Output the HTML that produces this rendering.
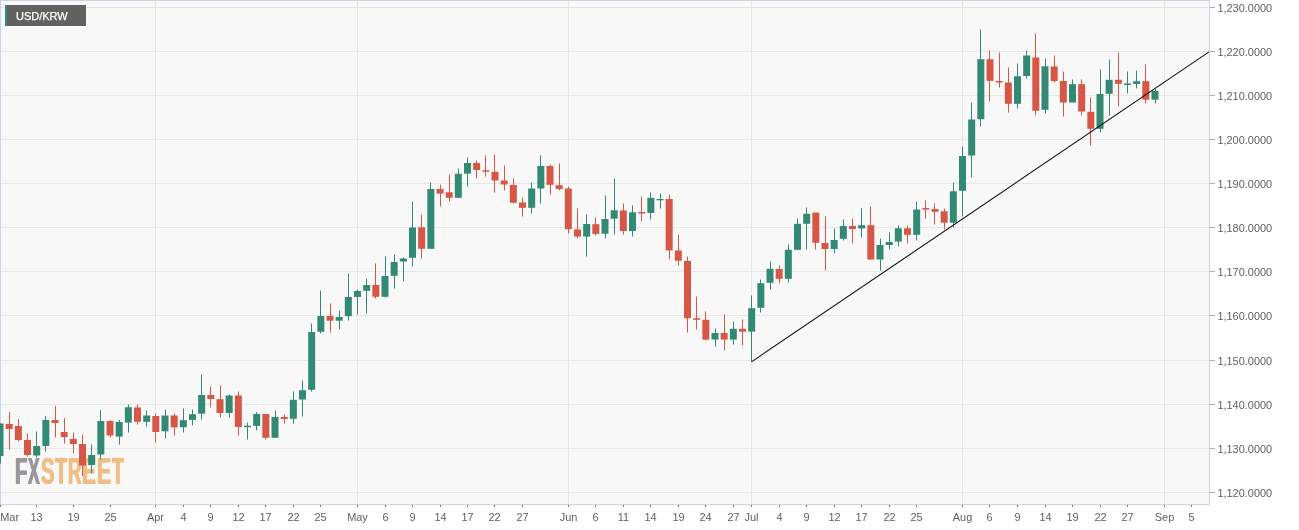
<!DOCTYPE html>
<html lang="en"><head><meta charset="utf-8"><title>USD/KRW</title>
<style>
html,body{margin:0;padding:0;background:#fff;}
body{width:1299px;height:530px;overflow:hidden;position:relative;font-family:"Liberation Sans",sans-serif;}
svg{position:absolute;left:0;top:0;display:block;}
svg text{font-family:"Liberation Sans",sans-serif;}
.ax{font-size:10.95px;fill:#606060;}
.plot{position:absolute;left:0;top:0;width:1210px;height:505px;background:#f8f8f8;}
.logo{position:absolute;left:0;top:0;width:140px;height:505px;font-weight:bold;font-size:37.36px;line-height:1;white-space:nowrap;color:#f0be84;}
.logo span{position:absolute;display:block;transform-origin:0 0;}
.logo .fx{color:#98989c;}
</style></head><body>
<div class="plot"></div>
<div class="logo"><span class="fx" style="left:14.74px;top:453.4px;transform:scaleX(0.5449);text-shadow:1.10px 0 0 currentColor,-1.10px 0 0 currentColor">F</span><span class="fx" style="left:28.44px;top:453.4px;transform:scaleX(0.4668);text-shadow:1.29px 0 0 currentColor,-1.29px 0 0 currentColor">X</span><span style="left:41.21px;top:453.4px;transform:scaleX(0.5416);text-shadow:1.11px 0 0 currentColor,-1.11px 0 0 currentColor">S</span><span style="left:55.38px;top:453.4px;transform:scaleX(0.5280);text-shadow:1.14px 0 0 currentColor,-1.14px 0 0 currentColor">T</span><span style="left:68.35px;top:453.4px;transform:scaleX(0.4990);text-shadow:1.20px 0 0 currentColor,-1.20px 0 0 currentColor">R</span><span style="left:82.41px;top:453.4px;transform:scaleX(0.5545);text-shadow:1.08px 0 0 currentColor,-1.08px 0 0 currentColor">E</span><span style="left:96.69px;top:453.4px;transform:scaleX(0.5640);text-shadow:1.06px 0 0 currentColor,-1.06px 0 0 currentColor">E</span><span style="left:112.39px;top:453.4px;transform:scaleX(0.5144);text-shadow:1.17px 0 0 currentColor,-1.17px 0 0 currentColor">T</span></div>
<svg width="1299" height="530" viewBox="0 0 1299 530">
<g stroke="#e6e6e6" stroke-width="1" fill="none">
<line x1="0" y1="492.50" x2="1209" y2="492.50"/>
<line x1="0" y1="448.50" x2="1209" y2="448.50"/>
<line x1="0" y1="404.50" x2="1209" y2="404.50"/>
<line x1="0" y1="360.50" x2="1209" y2="360.50"/>
<line x1="0" y1="315.50" x2="1209" y2="315.50"/>
<line x1="0" y1="271.50" x2="1209" y2="271.50"/>
<line x1="0" y1="227.50" x2="1209" y2="227.50"/>
<line x1="0" y1="183.50" x2="1209" y2="183.50"/>
<line x1="0" y1="139.50" x2="1209" y2="139.50"/>
<line x1="0" y1="95.50" x2="1209" y2="95.50"/>
<line x1="0" y1="51.50" x2="1209" y2="51.50"/>
<line x1="0" y1="7.50" x2="1209" y2="7.50"/>
<line x1="155.50" y1="0" x2="155.50" y2="504"/>
<line x1="357.50" y1="0" x2="357.50" y2="504"/>
<line x1="568.50" y1="0" x2="568.50" y2="504"/>
<line x1="751.50" y1="0" x2="751.50" y2="504"/>
<line x1="962.50" y1="0" x2="962.50" y2="504"/>
<line x1="1164.50" y1="0" x2="1164.50" y2="504"/>
</g>
<g stroke="#ccd3e6" stroke-width="1" fill="none">
<line x1="0" y1="0.5" x2="1210" y2="0.5"/>
<line x1="0.5" y1="0" x2="0.5" y2="504"/>
<line x1="1209.5" y1="0" x2="1209.5" y2="504.5"/>
<line x1="0" y1="504.5" x2="1210" y2="504.5"/>
</g>
<g fill="#338a74"><rect x="0.00" y="423.5" width="1.0" height="40.0"/><rect x="-3.50" y="423.5" width="7.0" height="32.5"/>
<rect x="36.00" y="431.5" width="1.0" height="26.0"/><rect x="33.17" y="446.0" width="7.0" height="9.5"/>
<rect x="45.00" y="416.0" width="1.0" height="35.5"/><rect x="42.33" y="420.0" width="7.0" height="26.0"/>
<rect x="91.00" y="444.5" width="1.0" height="28.5"/><rect x="88.17" y="455.0" width="7.0" height="10.0"/>
<rect x="100.00" y="410.0" width="1.0" height="49.5"/><rect x="97.33" y="421.0" width="7.0" height="33.5"/>
<rect x="119.00" y="420.0" width="1.0" height="24.5"/><rect x="115.67" y="422.0" width="7.0" height="14.6"/>
<rect x="128.00" y="404.5" width="1.0" height="28.0"/><rect x="124.83" y="407.2" width="7.0" height="15.4"/>
<rect x="146.00" y="410.5" width="1.0" height="16.0"/><rect x="143.17" y="415.5" width="7.0" height="6.3"/>
<rect x="165.00" y="409.5" width="1.0" height="29.0"/><rect x="161.50" y="415.5" width="7.0" height="15.8"/>
<rect x="183.00" y="408.5" width="1.0" height="24.0"/><rect x="179.83" y="420.2" width="7.0" height="7.0"/>
<rect x="192.00" y="409.5" width="1.0" height="16.0"/><rect x="189.00" y="414.2" width="7.0" height="5.7"/>
<rect x="201.00" y="374.5" width="1.0" height="45.0"/><rect x="198.17" y="395.0" width="7.0" height="18.7"/>
<rect x="229.00" y="394.5" width="1.0" height="23.0"/><rect x="225.67" y="395.5" width="7.0" height="17.5"/>
<rect x="247.00" y="422.5" width="1.0" height="17.0"/><rect x="244.00" y="425.7" width="7.0" height="1.5"/>
<rect x="256.00" y="412.0" width="1.0" height="18.5"/><rect x="253.17" y="414.0" width="7.0" height="11.9"/>
<rect x="275.00" y="410.5" width="1.0" height="27.3"/><rect x="271.50" y="417.0" width="7.0" height="20.8"/>
<rect x="293.00" y="391.5" width="1.0" height="32.0"/><rect x="289.83" y="399.8" width="7.0" height="19.0"/>
<rect x="302.00" y="380.5" width="1.0" height="36.0"/><rect x="299.00" y="390.2" width="7.0" height="9.3"/>
<rect x="311.00" y="323.5" width="1.0" height="68.0"/><rect x="308.17" y="332.0" width="7.0" height="57.8"/>
<rect x="320.00" y="290.5" width="1.0" height="43.0"/><rect x="317.33" y="316.0" width="7.0" height="15.8"/>
<rect x="339.00" y="310.5" width="1.0" height="19.0"/><rect x="335.67" y="317.0" width="7.0" height="3.7"/>
<rect x="348.00" y="273.5" width="1.0" height="47.0"/><rect x="344.83" y="297.0" width="7.0" height="19.2"/>
<rect x="357.00" y="289.5" width="1.0" height="25.0"/><rect x="354.00" y="291.0" width="7.0" height="6.0"/>
<rect x="366.00" y="278.5" width="1.0" height="35.0"/><rect x="363.17" y="285.0" width="7.0" height="5.8"/>
<rect x="385.00" y="256.5" width="1.0" height="41.0"/><rect x="381.50" y="276.0" width="7.0" height="20.8"/>
<rect x="394.00" y="254.5" width="1.0" height="34.0"/><rect x="390.67" y="262.0" width="7.0" height="13.8"/>
<rect x="403.00" y="257.5" width="1.0" height="24.0"/><rect x="399.83" y="258.5" width="7.0" height="3.0"/>
<rect x="412.00" y="201.5" width="1.0" height="65.0"/><rect x="409.00" y="227.5" width="7.0" height="30.3"/>
<rect x="430.00" y="182.5" width="1.0" height="66.3"/><rect x="427.33" y="189.0" width="7.0" height="59.8"/>
<rect x="458.00" y="168.5" width="1.0" height="29.3"/><rect x="454.83" y="173.8" width="7.0" height="24.0"/>
<rect x="467.00" y="157.5" width="1.0" height="29.0"/><rect x="464.00" y="163.0" width="7.0" height="10.7"/>
<rect x="531.00" y="182.5" width="1.0" height="31.0"/><rect x="528.17" y="188.5" width="7.0" height="19.3"/>
<rect x="540.00" y="155.5" width="1.0" height="48.0"/><rect x="537.33" y="166.0" width="7.0" height="22.5"/>
<rect x="586.00" y="214.5" width="1.0" height="42.0"/><rect x="583.17" y="224.0" width="7.0" height="12.6"/>
<rect x="605.00" y="195.5" width="1.0" height="43.0"/><rect x="601.50" y="219.0" width="7.0" height="14.7"/>
<rect x="614.00" y="178.5" width="1.0" height="56.0"/><rect x="610.67" y="210.2" width="7.0" height="8.5"/>
<rect x="632.00" y="205.5" width="1.0" height="31.0"/><rect x="629.00" y="212.3" width="7.0" height="18.7"/>
<rect x="650.00" y="192.5" width="1.0" height="27.0"/><rect x="647.33" y="197.8" width="7.0" height="15.2"/>
<rect x="660.00" y="193.5" width="1.0" height="15.0"/><rect x="656.50" y="199.0" width="7.0" height="1.3"/>
<rect x="715.00" y="328.5" width="1.0" height="18.0"/><rect x="711.50" y="333.0" width="7.0" height="6.6"/>
<rect x="733.00" y="321.5" width="1.0" height="23.0"/><rect x="729.83" y="328.8" width="7.0" height="10.8"/>
<rect x="751.00" y="295.5" width="1.0" height="66.0"/><rect x="748.17" y="308.2" width="7.0" height="23.4"/>
<rect x="760.00" y="279.5" width="1.0" height="33.0"/><rect x="757.33" y="283.2" width="7.0" height="24.6"/>
<rect x="770.00" y="261.5" width="1.0" height="28.0"/><rect x="766.50" y="268.8" width="7.0" height="14.0"/>
<rect x="788.00" y="244.5" width="1.0" height="38.0"/><rect x="784.83" y="249.8" width="7.0" height="29.0"/>
<rect x="797.00" y="218.5" width="1.0" height="31.0"/><rect x="794.00" y="223.8" width="7.0" height="26.0"/>
<rect x="806.00" y="207.5" width="1.0" height="42.0"/><rect x="803.17" y="213.8" width="7.0" height="10.0"/>
<rect x="834.00" y="228.5" width="1.0" height="25.0"/><rect x="830.67" y="240.0" width="7.0" height="9.0"/>
<rect x="843.00" y="219.5" width="1.0" height="21.0"/><rect x="839.83" y="226.0" width="7.0" height="12.8"/>
<rect x="861.00" y="208.5" width="1.0" height="29.0"/><rect x="858.17" y="225.2" width="7.0" height="3.3"/>
<rect x="880.00" y="238.5" width="1.0" height="32.0"/><rect x="876.50" y="245.0" width="7.0" height="14.5"/>
<rect x="889.00" y="232.5" width="1.0" height="17.0"/><rect x="885.67" y="242.0" width="7.0" height="3.0"/>
<rect x="898.00" y="225.5" width="1.0" height="21.0"/><rect x="894.83" y="228.3" width="7.0" height="13.3"/>
<rect x="916.00" y="201.5" width="1.0" height="39.0"/><rect x="913.17" y="209.5" width="7.0" height="25.3"/>
<rect x="953.00" y="182.5" width="1.0" height="45.0"/><rect x="949.83" y="191.3" width="7.0" height="31.4"/>
<rect x="962.00" y="146.5" width="1.0" height="70.0"/><rect x="959.00" y="156.0" width="7.0" height="34.8"/>
<rect x="971.00" y="102.5" width="1.0" height="75.0"/><rect x="968.17" y="119.5" width="7.0" height="36.0"/>
<rect x="980.00" y="29.5" width="1.0" height="97.0"/><rect x="977.33" y="59.2" width="7.0" height="60.0"/>
<rect x="1017.00" y="63.5" width="1.0" height="45.0"/><rect x="1014.00" y="76.2" width="7.0" height="27.6"/>
<rect x="1026.00" y="50.5" width="1.0" height="28.0"/><rect x="1023.17" y="55.5" width="7.0" height="20.5"/>
<rect x="1045.00" y="58.5" width="1.0" height="55.0"/><rect x="1041.50" y="66.3" width="7.0" height="43.5"/>
<rect x="1072.00" y="79.5" width="1.0" height="22.7"/><rect x="1069.00" y="84.2" width="7.0" height="18.3"/>
<rect x="1100.00" y="69.5" width="1.0" height="63.0"/><rect x="1096.50" y="94.0" width="7.0" height="34.8"/>
<rect x="1109.00" y="59.5" width="1.0" height="56.0"/><rect x="1105.67" y="79.8" width="7.0" height="14.0"/>
<rect x="1127.00" y="71.5" width="1.0" height="22.0"/><rect x="1124.00" y="83.5" width="7.0" height="1.5"/>
<rect x="1136.00" y="70.5" width="1.0" height="18.0"/><rect x="1133.17" y="81.2" width="7.0" height="2.8"/>
<rect x="1155.00" y="89.0" width="1.0" height="14.5"/><rect x="1151.50" y="90.8" width="7.0" height="8.9"/></g>
<g fill="#d65745"><rect x="9.00" y="412.0" width="1.0" height="37.5"/><rect x="5.67" y="424.0" width="7.0" height="5.0"/>
<rect x="18.00" y="419.0" width="1.0" height="22.5"/><rect x="14.83" y="426.0" width="7.0" height="14.0"/>
<rect x="27.00" y="433.5" width="1.0" height="23.0"/><rect x="24.00" y="440.0" width="7.0" height="15.0"/>
<rect x="55.00" y="406.0" width="1.0" height="31.5"/><rect x="51.50" y="420.0" width="7.0" height="3.0"/>
<rect x="64.00" y="418.0" width="1.0" height="25.5"/><rect x="60.67" y="432.0" width="7.0" height="5.0"/>
<rect x="73.00" y="432.5" width="1.0" height="21.0"/><rect x="69.83" y="439.0" width="7.0" height="5.0"/>
<rect x="82.00" y="434.5" width="1.0" height="41.5"/><rect x="79.00" y="444.0" width="7.0" height="21.5"/>
<rect x="110.00" y="420.0" width="1.0" height="17.5"/><rect x="106.50" y="421.0" width="7.0" height="14.5"/>
<rect x="137.00" y="404.5" width="1.0" height="20.0"/><rect x="134.00" y="407.5" width="7.0" height="14.3"/>
<rect x="155.00" y="413.5" width="1.0" height="29.0"/><rect x="152.33" y="416.0" width="7.0" height="16.0"/>
<rect x="174.00" y="413.5" width="1.0" height="22.0"/><rect x="170.67" y="415.5" width="7.0" height="11.9"/>
<rect x="210.00" y="386.5" width="1.0" height="21.0"/><rect x="207.33" y="395.0" width="7.0" height="4.0"/>
<rect x="220.00" y="385.5" width="1.0" height="32.0"/><rect x="216.50" y="399.2" width="7.0" height="13.8"/>
<rect x="238.00" y="391.5" width="1.0" height="44.0"/><rect x="234.83" y="395.5" width="7.0" height="31.5"/>
<rect x="265.00" y="414.0" width="1.0" height="25.5"/><rect x="262.33" y="414.0" width="7.0" height="23.8"/>
<rect x="284.00" y="414.5" width="1.0" height="9.0"/><rect x="280.67" y="417.0" width="7.0" height="2.0"/>
<rect x="330.00" y="303.5" width="1.0" height="29.0"/><rect x="326.50" y="316.0" width="7.0" height="4.7"/>
<rect x="375.00" y="263.5" width="1.0" height="35.0"/><rect x="372.33" y="285.0" width="7.0" height="11.8"/>
<rect x="421.00" y="214.5" width="1.0" height="44.0"/><rect x="418.17" y="227.3" width="7.0" height="21.5"/>
<rect x="440.00" y="184.5" width="1.0" height="22.0"/><rect x="436.50" y="189.0" width="7.0" height="4.6"/>
<rect x="449.00" y="174.5" width="1.0" height="27.0"/><rect x="445.67" y="192.3" width="7.0" height="5.5"/>
<rect x="476.00" y="160.5" width="1.0" height="18.0"/><rect x="473.17" y="163.0" width="7.0" height="7.0"/>
<rect x="485.00" y="155.5" width="1.0" height="21.0"/><rect x="482.33" y="170.3" width="7.0" height="1.5"/>
<rect x="494.00" y="154.5" width="1.0" height="38.0"/><rect x="491.50" y="171.8" width="7.0" height="8.7"/>
<rect x="504.00" y="165.5" width="1.0" height="25.0"/><rect x="500.67" y="180.5" width="7.0" height="4.0"/>
<rect x="513.00" y="178.5" width="1.0" height="25.0"/><rect x="509.83" y="185.0" width="7.0" height="17.8"/>
<rect x="522.00" y="197.5" width="1.0" height="19.0"/><rect x="519.00" y="202.5" width="7.0" height="5.3"/>
<rect x="550.00" y="164.5" width="1.0" height="30.0"/><rect x="546.50" y="166.0" width="7.0" height="18.8"/>
<rect x="559.00" y="163.5" width="1.0" height="27.0"/><rect x="555.67" y="185.2" width="7.0" height="3.8"/>
<rect x="568.00" y="186.5" width="1.0" height="47.0"/><rect x="564.83" y="188.5" width="7.0" height="40.7"/>
<rect x="577.00" y="208.5" width="1.0" height="30.0"/><rect x="574.00" y="229.5" width="7.0" height="7.0"/>
<rect x="595.00" y="217.5" width="1.0" height="18.0"/><rect x="592.33" y="224.2" width="7.0" height="9.7"/>
<rect x="623.00" y="203.5" width="1.0" height="31.0"/><rect x="619.83" y="210.5" width="7.0" height="20.5"/>
<rect x="641.00" y="196.5" width="1.0" height="25.0"/><rect x="638.17" y="212.0" width="7.0" height="1.5"/>
<rect x="669.00" y="194.5" width="1.0" height="65.0"/><rect x="665.67" y="199.0" width="7.0" height="51.4"/>
<rect x="678.00" y="234.5" width="1.0" height="31.0"/><rect x="674.83" y="250.5" width="7.0" height="10.2"/>
<rect x="687.00" y="256.5" width="1.0" height="76.0"/><rect x="684.00" y="261.0" width="7.0" height="57.2"/>
<rect x="696.00" y="296.5" width="1.0" height="33.0"/><rect x="693.17" y="318.2" width="7.0" height="1.6"/>
<rect x="705.00" y="311.5" width="1.0" height="29.0"/><rect x="702.33" y="319.8" width="7.0" height="19.8"/>
<rect x="724.00" y="314.5" width="1.0" height="36.0"/><rect x="720.67" y="333.0" width="7.0" height="6.6"/>
<rect x="742.00" y="319.5" width="1.0" height="26.0"/><rect x="739.00" y="328.8" width="7.0" height="2.9"/>
<rect x="779.00" y="265.5" width="1.0" height="18.0"/><rect x="775.67" y="269.0" width="7.0" height="9.8"/>
<rect x="815.00" y="212.8" width="1.0" height="36.7"/><rect x="812.33" y="212.6" width="7.0" height="30.2"/>
<rect x="825.00" y="216.5" width="1.0" height="54.0"/><rect x="821.50" y="243.0" width="7.0" height="6.0"/>
<rect x="852.00" y="218.5" width="1.0" height="25.0"/><rect x="849.00" y="226.0" width="7.0" height="3.0"/>
<rect x="870.00" y="206.5" width="1.0" height="53.0"/><rect x="867.33" y="225.2" width="7.0" height="34.3"/>
<rect x="907.00" y="225.5" width="1.0" height="18.0"/><rect x="904.00" y="228.3" width="7.0" height="6.5"/>
<rect x="925.00" y="200.5" width="1.0" height="18.0"/><rect x="922.33" y="208.0" width="7.0" height="1.5"/>
<rect x="934.00" y="203.5" width="1.0" height="21.0"/><rect x="931.50" y="209.0" width="7.0" height="2.8"/>
<rect x="944.00" y="208.5" width="1.0" height="21.0"/><rect x="940.67" y="211.3" width="7.0" height="11.4"/>
<rect x="989.00" y="50.5" width="1.0" height="51.0"/><rect x="986.50" y="59.2" width="7.0" height="21.7"/>
<rect x="999.00" y="52.5" width="1.0" height="35.0"/><rect x="995.67" y="81.0" width="7.0" height="1.5"/>
<rect x="1008.00" y="67.5" width="1.0" height="45.0"/><rect x="1004.83" y="82.5" width="7.0" height="21.3"/>
<rect x="1035.00" y="33.5" width="1.0" height="82.0"/><rect x="1032.33" y="57.5" width="7.0" height="53.3"/>
<rect x="1054.00" y="55.5" width="1.0" height="27.0"/><rect x="1050.67" y="66.5" width="7.0" height="14.6"/>
<rect x="1063.00" y="71.5" width="1.0" height="45.0"/><rect x="1059.83" y="81.0" width="7.0" height="21.5"/>
<rect x="1081.00" y="79.5" width="1.0" height="36.0"/><rect x="1078.17" y="84.2" width="7.0" height="27.3"/>
<rect x="1090.00" y="97.5" width="1.0" height="48.0"/><rect x="1087.33" y="111.8" width="7.0" height="17.0"/>
<rect x="1118.00" y="52.5" width="1.0" height="54.0"/><rect x="1114.83" y="79.8" width="7.0" height="4.0"/>
<rect x="1145.00" y="64.5" width="1.0" height="39.0"/><rect x="1142.33" y="81.2" width="7.0" height="18.5"/></g>
<line x1="751.5" y1="361.85" x2="1209" y2="51.85" stroke="#0a0a0a" stroke-width="1.05"/>
<rect x="5" y="5" width="81" height="21" fill="#616161"/>
<rect x="5" y="5" width="2" height="21" fill="#2e8b74"/>
<text x="16" y="20" font-size="11" fill="#ffffff" stroke="#ffffff" stroke-width="0.25">USD/KRW</text>
<g stroke="#adadad" stroke-width="1">
<line x1="1210" y1="492.50" x2="1215" y2="492.50"/>
<line x1="1210" y1="448.50" x2="1215" y2="448.50"/>
<line x1="1210" y1="404.50" x2="1215" y2="404.50"/>
<line x1="1210" y1="360.50" x2="1215" y2="360.50"/>
<line x1="1210" y1="315.50" x2="1215" y2="315.50"/>
<line x1="1210" y1="271.50" x2="1215" y2="271.50"/>
<line x1="1210" y1="227.50" x2="1215" y2="227.50"/>
<line x1="1210" y1="183.50" x2="1215" y2="183.50"/>
<line x1="1210" y1="139.50" x2="1215" y2="139.50"/>
<line x1="1210" y1="95.50" x2="1215" y2="95.50"/>
<line x1="1210" y1="51.50" x2="1215" y2="51.50"/>
<line x1="1210" y1="7.50" x2="1215" y2="7.50"/>
</g>
<g class="ax">
<text x="1217.4" y="497.00">1,120.0000</text>
<text x="1217.4" y="453.00">1,130.0000</text>
<text x="1217.4" y="409.00">1,140.0000</text>
<text x="1217.4" y="365.00">1,150.0000</text>
<text x="1217.4" y="320.00">1,160.0000</text>
<text x="1217.4" y="276.00">1,170.0000</text>
<text x="1217.4" y="232.00">1,180.0000</text>
<text x="1217.4" y="188.00">1,190.0000</text>
<text x="1217.4" y="144.00">1,200.0000</text>
<text x="1217.4" y="100.00">1,210.0000</text>
<text x="1217.4" y="56.00">1,220.0000</text>
<text x="1217.4" y="12.00">1,230.0000</text>
</g>
<g stroke="#777" stroke-width="1">
<line x1="0.50" y1="505" x2="0.50" y2="507"/>
<line x1="36.50" y1="505" x2="36.50" y2="507"/>
<line x1="73.50" y1="505" x2="73.50" y2="507"/>
<line x1="110.50" y1="505" x2="110.50" y2="507"/>
<line x1="155.50" y1="505" x2="155.50" y2="507"/>
<line x1="183.50" y1="505" x2="183.50" y2="507"/>
<line x1="210.50" y1="505" x2="210.50" y2="507"/>
<line x1="238.50" y1="505" x2="238.50" y2="507"/>
<line x1="265.50" y1="505" x2="265.50" y2="507"/>
<line x1="293.50" y1="505" x2="293.50" y2="507"/>
<line x1="320.50" y1="505" x2="320.50" y2="507"/>
<line x1="357.50" y1="505" x2="357.50" y2="507"/>
<line x1="385.50" y1="505" x2="385.50" y2="507"/>
<line x1="412.50" y1="505" x2="412.50" y2="507"/>
<line x1="440.50" y1="505" x2="440.50" y2="507"/>
<line x1="467.50" y1="505" x2="467.50" y2="507"/>
<line x1="494.50" y1="505" x2="494.50" y2="507"/>
<line x1="522.50" y1="505" x2="522.50" y2="507"/>
<line x1="568.50" y1="505" x2="568.50" y2="507"/>
<line x1="595.50" y1="505" x2="595.50" y2="507"/>
<line x1="623.50" y1="505" x2="623.50" y2="507"/>
<line x1="650.50" y1="505" x2="650.50" y2="507"/>
<line x1="678.50" y1="505" x2="678.50" y2="507"/>
<line x1="705.50" y1="505" x2="705.50" y2="507"/>
<line x1="733.50" y1="505" x2="733.50" y2="507"/>
<line x1="751.50" y1="505" x2="751.50" y2="507"/>
<line x1="779.50" y1="505" x2="779.50" y2="507"/>
<line x1="806.50" y1="505" x2="806.50" y2="507"/>
<line x1="834.50" y1="505" x2="834.50" y2="507"/>
<line x1="861.50" y1="505" x2="861.50" y2="507"/>
<line x1="889.50" y1="505" x2="889.50" y2="507"/>
<line x1="916.50" y1="505" x2="916.50" y2="507"/>
<line x1="962.50" y1="505" x2="962.50" y2="507"/>
<line x1="989.50" y1="505" x2="989.50" y2="507"/>
<line x1="1017.50" y1="505" x2="1017.50" y2="507"/>
<line x1="1045.50" y1="505" x2="1045.50" y2="507"/>
<line x1="1072.50" y1="505" x2="1072.50" y2="507"/>
<line x1="1100.50" y1="505" x2="1100.50" y2="507"/>
<line x1="1127.50" y1="505" x2="1127.50" y2="507"/>
<line x1="1164.50" y1="505" x2="1164.50" y2="507"/>
<line x1="1191.50" y1="505" x2="1191.50" y2="507"/>
</g>
<g class="ax" text-anchor="middle">
<text x="0.2" y="521" text-anchor="start">Mar</text>
<text x="36.50" y="521">13</text>
<text x="73.50" y="521">19</text>
<text x="110.50" y="521">25</text>
<text x="155.50" y="521">Apr</text>
<text x="183.50" y="521">4</text>
<text x="210.50" y="521">9</text>
<text x="238.50" y="521">12</text>
<text x="265.50" y="521">17</text>
<text x="293.50" y="521">22</text>
<text x="320.50" y="521">25</text>
<text x="357.50" y="521">May</text>
<text x="385.50" y="521">6</text>
<text x="412.50" y="521">9</text>
<text x="440.50" y="521">14</text>
<text x="467.50" y="521">17</text>
<text x="494.50" y="521">22</text>
<text x="522.50" y="521">27</text>
<text x="568.50" y="521">Jun</text>
<text x="595.50" y="521">6</text>
<text x="623.50" y="521">11</text>
<text x="650.50" y="521">14</text>
<text x="678.50" y="521">19</text>
<text x="705.50" y="521">24</text>
<text x="733.50" y="521">27</text>
<text x="751.50" y="521">Jul</text>
<text x="779.50" y="521">4</text>
<text x="806.50" y="521">9</text>
<text x="834.50" y="521">12</text>
<text x="861.50" y="521">17</text>
<text x="889.50" y="521">22</text>
<text x="916.50" y="521">25</text>
<text x="962.50" y="521">Aug</text>
<text x="989.50" y="521">6</text>
<text x="1017.50" y="521">9</text>
<text x="1045.50" y="521">14</text>
<text x="1072.50" y="521">19</text>
<text x="1100.50" y="521">22</text>
<text x="1127.50" y="521">27</text>
<text x="1164.50" y="521">Sep</text>
<text x="1191.50" y="521">5</text>
</g>
</svg></body></html>
